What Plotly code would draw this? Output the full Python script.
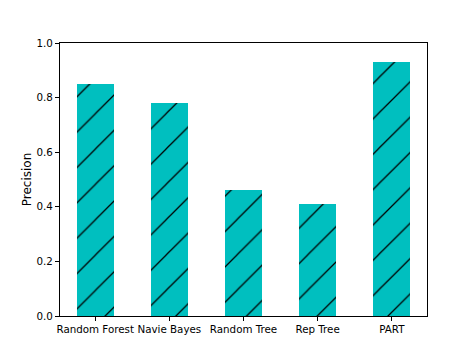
import plotly.graph_objects as go

categories = ["Random Forest", "Navie Bayes", "Random Tree", "Rep Tree", "PART"]
precision = [0.85, 0.78, 0.46, 0.41, 0.93]
y_ticks = [0.0, 0.2, 0.4, 0.6, 0.8, 1.0]

fig = go.Figure()
fig.add_trace(go.Bar(
    x=list(range(len(categories))),
    y=precision,
    width=0.5,
    marker=dict(
        color="#00BFBF",
        line=dict(width=0),
        pattern=dict(shape="/", fgcolor="black", fgopacity=1, bgcolor="#00BFBF",
                     size=25, solidity=0.05),
    ),
))

fig.update_layout(
    width=474, height=355,
    margin=dict(l=60, r=47, t=43, b=39),
    plot_bgcolor="white", paper_bgcolor="white",
    font=dict(family="DejaVu Sans", size=10.3, color="black"),
    showlegend=False,
    bargap=0,
)
fig.update_xaxes(
    range=[-0.475, 4.475],
    tickvals=list(range(len(categories))), ticktext=categories,
    showline=True, linecolor="black", linewidth=1, mirror=True,
    ticks="outside", ticklen=4, tickcolor="black", showgrid=False, zeroline=False,
)
fig.update_yaxes(
    range=[0, 1.0],
    tickvals=y_ticks, tickformat=".1f",
    showline=True, linecolor="black", linewidth=1, mirror=True,
    ticks="outside", ticklen=4, tickcolor="black", showgrid=False, zeroline=False,
    title=dict(text="Precision", standoff=2),
)
fig.write_html("out.html")
